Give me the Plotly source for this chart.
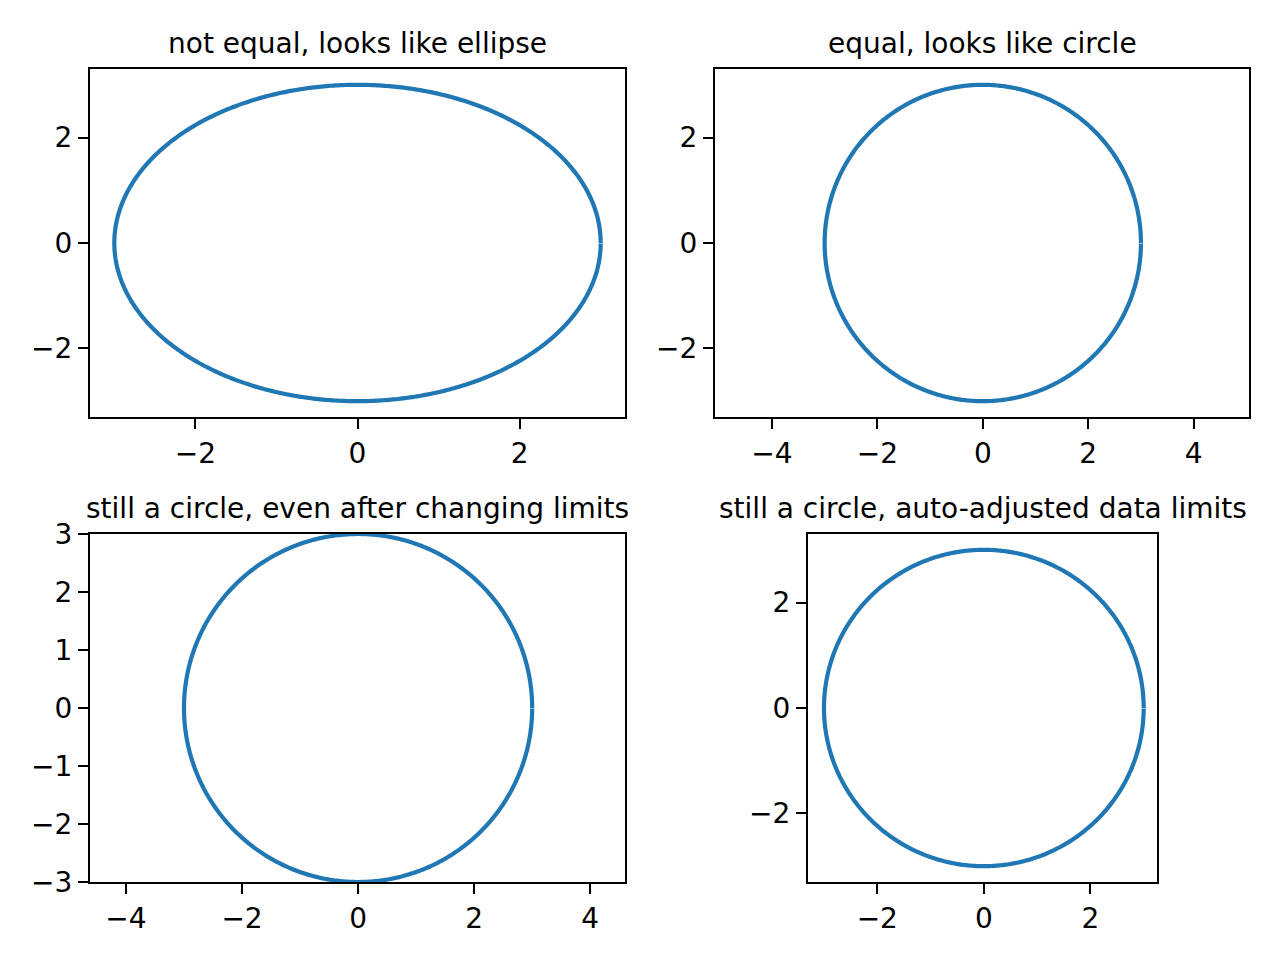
import numpy as np
import plotly.graph_objects as go

# circle of radius 3, sampled the same way as the original demo
radius = 3.0
t = np.arange(0, 2 * np.pi, 0.01)
circle_x = radius * np.cos(t)
circle_y = radius * np.sin(t)

titles = [
    "not equal, looks like ellipse",
    "equal, looks like circle",
    "still a circle, even after changing limits",
    "still a circle, auto-adjusted data limits",
]
x_ranges = [[-3.3, 3.3], [-5.08, 5.05], [-4.62, 4.6], [-3.3, 3.25]]
y_ranges = [[-3.3, 3.3], [-3.3, 3.3], [-3.0, 3.0], [-3.3, 3.3]]
x_ticks = [[-2, 0, 2], [-4, -2, 0, 2, 4], [-4, -2, 0, 2, 4], [-2, 0, 2]]
y_ticks = [[-2, 0, 2], [-2, 0, 2], [-3, -2, -1, 0, 1, 2, 3], [-2, 0, 2]]

W, H = 1280, 960
OFF = 8  # page body margin shifts the figure
# axes boxes in screen pixels: left, right, top, bottom
boxes = [(90, 625, 69, 417), (715, 1249, 69, 417),
         (90, 625, 534, 882), (808, 1157, 534, 882)]

font = dict(family="DejaVu Sans", size=28, color="black")
fig = go.Figure()
annotations = []
for i, (l, r, top, bot) in enumerate(boxes):
    l, r, top, bot = l - OFF, r - OFF, top - OFF, bot - OFF
    n = "" if i == 0 else str(i + 1)
    fig.add_trace(go.Scatter(x=circle_x, y=circle_y, mode="lines",
                             line=dict(color="#1f77b4", width=4.2, simplify=False),
                             xaxis="x" + n, yaxis="y" + n, showlegend=False))
    ax = dict(showline=True, mirror=True, linecolor="black", linewidth=2,
              ticks="outside", ticklen=10, tickwidth=2, tickcolor="black",
              showgrid=False, zeroline=False, tickfont=font, automargin=False)
    fig.update_layout({
        "xaxis" + n: dict(ax, domain=[l / W, r / W], range=x_ranges[i],
                          tickvals=x_ticks[i], anchor="y" + n),
        "yaxis" + n: dict(ax, domain=[1 - bot / H, 1 - top / H], range=y_ranges[i],
                          tickvals=y_ticks[i], anchor="x" + n),
    })
    annotations.append(dict(text=titles[i], xref="paper", yref="paper",
                            x=(l + r) / 2 / W, y=1 - top / H, xanchor="center",
                            yanchor="bottom", yshift=7, showarrow=False,
                            font=font))

fig.update_layout(width=W, height=H, margin=dict(l=0, r=0, t=0, b=0),
                  plot_bgcolor="white", paper_bgcolor="white",
                  annotations=annotations)
fig.write_html("out.html")
